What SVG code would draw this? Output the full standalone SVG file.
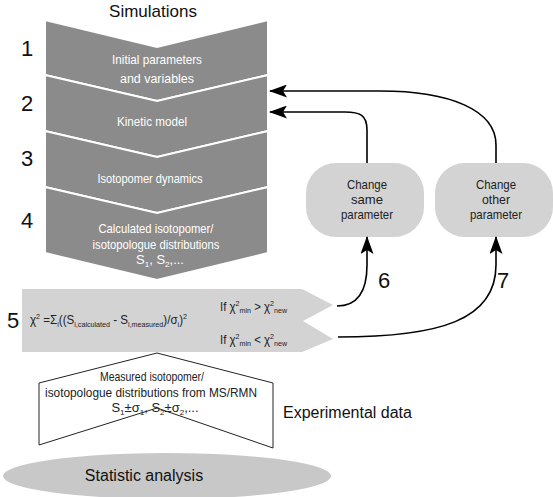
<svg xmlns="http://www.w3.org/2000/svg" width="553" height="497" viewBox="0 0 553 497">
<style>
text{font-family:"Liberation Sans",Arial,sans-serif}
.dk{fill:#8b8b8b;stroke:#fff;stroke-width:2}
.lt{fill:#d3d3d3;stroke:none}
.wt{fill:#fff;font-size:13px;text-anchor:middle}
.bt{fill:#222;font-size:13px;text-anchor:middle}
.num{fill:#111;font-size:22px;text-anchor:middle}
.s{font-size:8px}
.con{fill:none;stroke:#000;stroke-width:1.6}
</style>
<defs>
<marker id="ah" viewBox="0 0 18 13" refX="17" refY="6.5" markerWidth="18" markerHeight="13" markerUnits="userSpaceOnUse" orient="auto">
<path d="M0,0 L18,6.5 L0,13 L4,6.5 Z" fill="#000"/>
</marker>
</defs>
<rect width="553" height="497" fill="#fff"/>
<text x="153" y="17" font-size="17" fill="#111" text-anchor="middle">Simulations</text>
<g id="step1">
<polygon class="dk" points="45,20 157,47 268,20 268,75 157,101 45,75"/>
<text class="wt" x="157" y="64" textLength="90" lengthAdjust="spacingAndGlyphs">Initial parameters</text>
<text class="wt" x="157" y="83" textLength="74" lengthAdjust="spacingAndGlyphs">and variables</text>
<text class="num" x="27" y="56">1</text>
</g>
<g id="step2">
<polygon class="dk" points="45,75 157,101 268,75 268,131 157,157 45,131"/>
<text class="wt" x="152" y="126" textLength="70" lengthAdjust="spacingAndGlyphs">Kinetic model</text>
<text class="num" x="27" y="111">2</text>
</g>
<g id="step3">
<polygon class="dk" points="45,131 157,157 268,131 268,187 157,213 45,187"/>
<text class="wt" x="150" y="183" textLength="105" lengthAdjust="spacingAndGlyphs">Isotopomer dynamics</text>
<text class="num" x="27" y="166">3</text>
</g>
<g id="step4">
<polygon class="dk" points="45,187 157,213 268,187 268,253 157,280 45,253"/>
<text class="wt" x="156" y="233" textLength="115" lengthAdjust="spacingAndGlyphs">Calculated isotopomer/</text>
<text class="wt" x="156" y="249" textLength="127" lengthAdjust="spacingAndGlyphs">isotopologue distributions</text>
<text class="wt" x="160" y="264">S<tspan class="s" dy="3">1</tspan><tspan dy="-3">, S</tspan><tspan class="s" dy="3">2</tspan><tspan dy="-3">,...</tspan></text>
<text class="num" x="27" y="228">4</text>
</g>
<g id="step5">
<polygon class="lt" points="22,289 302,289 333,305 303,321 333,339 302,352 22,352"/>
<text x="30" y="324" font-size="13" fill="#222" textLength="157" lengthAdjust="spacingAndGlyphs">χ<tspan class="s" dy="-5">2</tspan><tspan dy="5"> =Σ</tspan><tspan class="s" dy="3">i</tspan><tspan dy="-3">((S</tspan><tspan class="s" dy="3">i,calculated</tspan><tspan dy="-3"> - S</tspan><tspan class="s" dy="3">i,measured</tspan><tspan dy="-3">)/σ</tspan><tspan class="s" dy="3">i</tspan><tspan dy="-3">)</tspan><tspan class="s" dy="-5">2</tspan></text>
<text x="220" y="311" font-size="13" fill="#222" textLength="67" lengthAdjust="spacingAndGlyphs">If χ<tspan class="s" dy="-5">2</tspan><tspan class="s" dy="7">min</tspan><tspan dy="-2"> &gt; χ</tspan><tspan class="s" dy="-5">2</tspan><tspan class="s" dy="7">new</tspan></text>
<text x="220" y="344" font-size="13" fill="#222" textLength="67" lengthAdjust="spacingAndGlyphs">If χ<tspan class="s" dy="-5">2</tspan><tspan class="s" dy="7">min</tspan><tspan dy="-2"> &lt; χ</tspan><tspan class="s" dy="-5">2</tspan><tspan class="s" dy="7">new</tspan></text>
<text class="num" x="13" y="328">5</text>
</g>
<g id="same">
<rect x="306" y="163" width="118" height="74" rx="30" ry="30" class="lt"/>
<text class="bt" x="367" y="189" font-size="14" textLength="40" lengthAdjust="spacingAndGlyphs">Change</text>
<text class="bt" x="367" y="204" font-size="14" textLength="32" lengthAdjust="spacingAndGlyphs">same</text>
<text class="bt" x="367" y="219" font-size="14" textLength="52" lengthAdjust="spacingAndGlyphs">parameter</text>
</g>
<g id="other">
<rect x="435" y="163" width="118" height="74" rx="30" ry="30" class="lt"/>
<text class="bt" x="496" y="189" font-size="14" textLength="40" lengthAdjust="spacingAndGlyphs">Change</text>
<text class="bt" x="496" y="204" font-size="14" textLength="28" lengthAdjust="spacingAndGlyphs">other</text>
<text class="bt" x="496" y="219" font-size="14" textLength="52" lengthAdjust="spacingAndGlyphs">parameter</text>
</g>
<g id="experimental">
<polygon points="39,383 157,353 273,383 273,448 157,408 39,445" fill="#fff" stroke="#222" stroke-width="1"/>
<text class="bt" x="152" y="381" textLength="104" lengthAdjust="spacingAndGlyphs">Measured isotopomer/</text>
<text class="bt" x="151" y="397" textLength="212" lengthAdjust="spacingAndGlyphs">isotopologue distributions from MS/RMN</text>
<text class="bt" x="155" y="412">S<tspan class="s" dy="3">1</tspan><tspan dy="-3">±σ</tspan><tspan class="s" dy="3">1</tspan><tspan dy="-3">, S</tspan><tspan class="s" dy="3">2</tspan><tspan dy="-3">±σ</tspan><tspan class="s" dy="3">2</tspan><tspan dy="-3">,...</tspan></text>
<text x="283" y="418" font-size="16" fill="#111">Experimental data</text>
</g>
<g id="statistic">
<ellipse cx="167" cy="476" rx="164" ry="23" fill="#c8c8c8"/>
<text x="144" y="481" font-size="16" fill="#111" text-anchor="middle">Statistic analysis</text>
</g>
<g id="connectors">
<path class="con" d="M496,163 L496,145 C496,110 450,91 380,91 L270,91" marker-end="url(#ah)"/>
<path class="con" d="M367,163 L367,130 C367,115 360,112 345,112 L270,112" marker-end="url(#ah)"/>
<path class="con" d="M337,306 C355,306 367,295 367,265 L367,237" marker-end="url(#ah)"/>
<path class="con" d="M338,337 C440,337 496,320 496,265 L496,237" marker-end="url(#ah)"/>
<text class="num" x="384" y="288">6</text>
<text class="num" x="503" y="288">7</text>
</g>
</svg>
